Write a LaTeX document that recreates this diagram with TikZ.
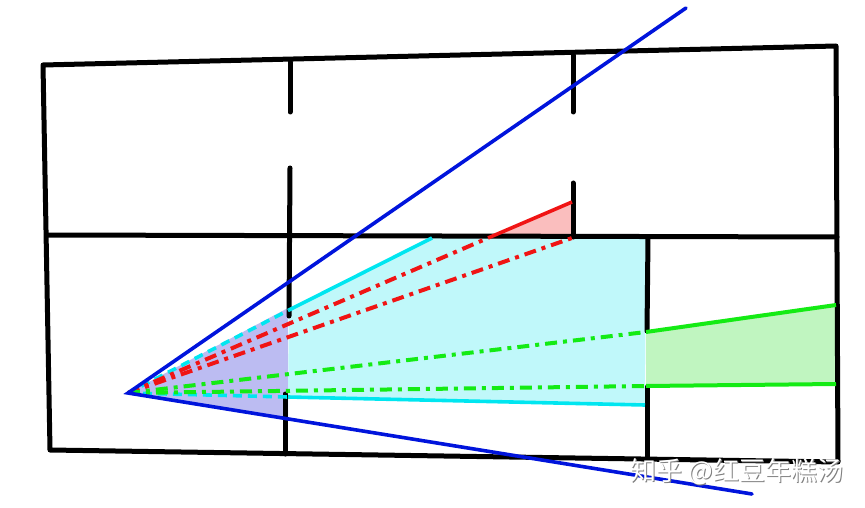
\documentclass[tikz,border=0pt]{standalone}
\usepackage{fontspec}
\newfontfamily\cjk{Noto Sans CJK SC}
\definecolor{wallc}{RGB}{0,0,0}
\definecolor{bluec}{RGB}{0,20,220}
\definecolor{lavc}{RGB}{188,188,242}
\definecolor{cyanl}{RGB}{0,230,240}
\definecolor{cyanf}{RGB}{192,248,250}
\definecolor{redc}{RGB}{240,20,20}
\definecolor{pinkf}{RGB}{250,190,190}
\definecolor{greenc}{RGB}{20,235,20}
\definecolor{greenf}{RGB}{192,245,192}
\tikzset{
  wall/.style={draw=wallc,line width=5pt,line cap=round,line join=round},
  sight/.style={draw=bluec,line width=3.6pt,line cap=round},
  cyansolid/.style={draw=cyanl,line width=3.6pt},
  cyandash/.style={draw=cyanl,line width=3.6pt,dash pattern=on 9pt off 6pt},
  reddash/.style={draw=redc,line width=4pt,dash pattern=on 12pt off 6pt on 4pt off 6pt},
  redsolid/.style={draw=redc,line width=3.6pt},
  greendash/.style={draw=greenc,line width=4pt,dash pattern=on 12pt off 6pt on 4pt off 6pt},
  greensolid/.style={draw=greenc,line width=4pt},
  wmark/.style={font=\cjk\fontsize{26}{26}\selectfont,inner sep=0pt}
}
\begin{document}
\begin{tikzpicture}[x=1pt,y=-1pt]
\useasboundingbox (0,0) rectangle (865,508);
% key points
\coordinate (E) at (128,393);
\coordinate (TL) at (43,65);
\coordinate (TR) at (836,46);
\coordinate (BL) at (50,450);
\coordinate (BR) at (838,462);
\coordinate (ML) at (47,235);
\coordinate (MR) at (837,237);
\coordinate (Bu) at (686,8);
\coordinate (Bd) at (752,494);
\coordinate (Cu0) at (289,310);
\coordinate (Cu) at (432,238);
\coordinate (Cd0) at (288,397);
\coordinate (Cd) at (645,405);
\coordinate (Bx) at (288,308);
\coordinate (By) at (288,419);
\coordinate (Ru) at (488,238);
\coordinate (Rt) at (572,202);
\coordinate (Rc) at (572,238);
\coordinate (Dr) at (646,238);
\coordinate (Gu) at (646,332);
\coordinate (Gd) at (646,386);
\coordinate (Gue) at (836,305);
\coordinate (Gde) at (836,384);
% fills
\fill[lavc] (E) -- (Bx) -- (By) -- cycle;
\fill[cyanf] (Cu0) -- (Cu) -- (Dr) -- (Cd) -- (Cd0) -- cycle;
\fill[pinkf] (Ru) -- (Rt) -- (Rc) -- cycle;
\fill[greenf] (Gu) -- (Gue) -- (Gde) -- (Gd) -- cycle;
% walls
\draw[wall] (TL) -- (TR) -- (BR) -- (BL) -- cycle;
\draw[wall] (ML) -- (MR);
\coordinate (v1a) at (290,62);
\coordinate (v1b) at (290,112);
\coordinate (v1c) at (290,168);
\coordinate (v1d) at (289,316);
\coordinate (v1e) at (285,394);
\coordinate (v1f) at (285,454);
\coordinate (v2a) at (573,55);
\coordinate (v2b) at (573,112);
\coordinate (v2c) at (573,183);
\coordinate (v2d) at (573,237);
\coordinate (v3a) at (648,238);
\coordinate (v3b) at (647,331);
\coordinate (v3c) at (647,387);
\coordinate (v3d) at (647,460);
\draw[wall] (v1a) -- (v1b);
\draw[wall] (v1c) -- (v1d);
\draw[wall] (v1e) -- (v1f);
\draw[wall] (v2a) -- (v2b);
\draw[wall] (v2c) -- (v2d);
\draw[wall] (v3a) -- (v3b);
\draw[wall] (v3c) -- (v3d);
% cyan lines
\draw[cyandash] (E) -- (Cu0);
\draw[cyansolid] (Cu0) -- (Cu);
\draw[cyandash] (E) -- (Cd0);
\draw[cyansolid] (Cd0) -- (Cd);
% red
\draw[reddash] (E) -- (Ru);
\draw[reddash] (E) -- (Rc);
\draw[redsolid] (Ru) -- (Rt);
% green
\draw[greendash] (E) -- (Gu);
\draw[greendash] (E) -- (Gd);
\draw[greensolid] (Gu) -- (Gue);
\draw[greensolid] (Gd) -- (Gde);
% blue sight lines
\draw[sight] (Bu) -- (E) -- (Bd);
% watermark
\node[wmark,text=black!50] (wm0) at (738,473) {知乎 @红豆年糕汤};
\node[wmark,text=white] (wm) at (737,472) {知乎 @红豆年糕汤};
\end{tikzpicture}
\end{document}
